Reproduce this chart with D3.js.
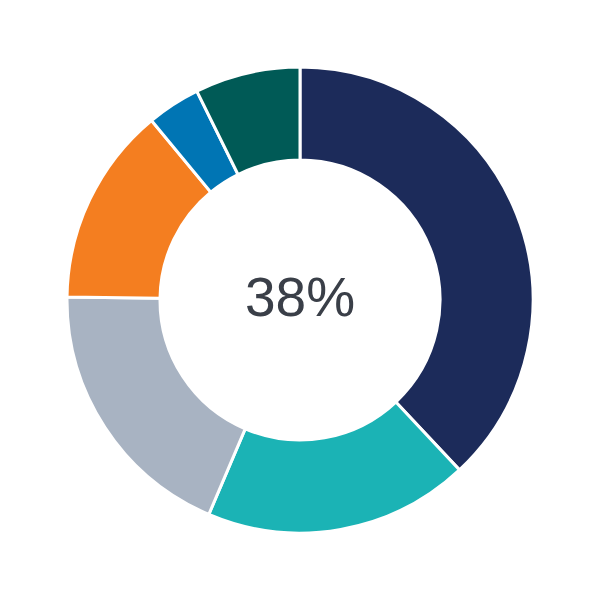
<!DOCTYPE html>
<html>
<head>
<meta charset="utf-8">
<script src="https://cdn.jsdelivr.net/npm/d3@7"></script>
<style>
  body { margin: 0; background: #fff; }
</style>
</head>
<body>
<div id="chart"></div>
<script>
const categories = ['A', 'B', 'C', 'D', 'E', 'F'];
const values = [38, 18.4, 18.8, 13.8, 3.7, 7.3];
const colors = ['#1c2b5a', '#1bb3b5', '#a8b3c2', '#f47e20', '#0075b4', '#005a56'];
const centerLabel = '38%';

const width = 600, height = 600;
const outerR = 233, innerR = 140;

const svg = d3.select('#chart').append('svg')
    .attr('width', width)
    .attr('height', height);

const g = svg.append('g')
    .attr('transform', `translate(${width / 2},${height / 2})`);

const color = d3.scaleOrdinal().domain(categories).range(colors);

const pie = d3.pie().sort(null).value(d => d.value);
const arc = d3.arc().innerRadius(innerR).outerRadius(outerR);

const data = categories.map((c, i) => ({ name: c, value: values[i] }));

g.selectAll('path')
    .data(pie(data))
    .enter().append('path')
    .attr('d', arc)
    .attr('fill', d => color(d.data.name))
    .attr('stroke', '#fff')
    .attr('stroke-width', 3);

g.append('text')
    .attr('text-anchor', 'middle')
    .attr('y', 16)
    .attr('font-family', 'Liberation Sans, Arial, sans-serif')
    .attr('font-size', 55)
    .attr('fill', '#3a3f48')
    .text(centerLabel);
</script>
</body>
</html>
